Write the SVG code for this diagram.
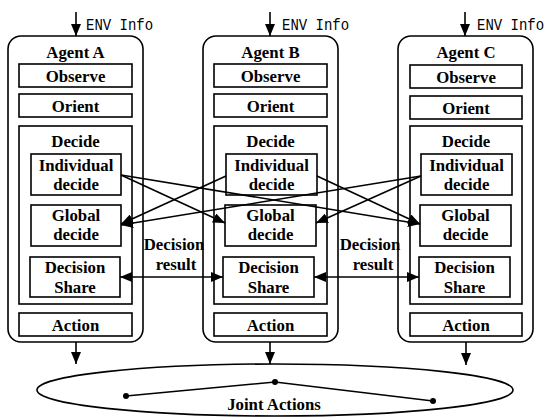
<svg xmlns="http://www.w3.org/2000/svg" width="550" height="419" viewBox="0 0 550 419">
<style>
.outer{fill:#fff;stroke:#000;stroke-width:1.6}
.box{fill:none;stroke:#000;stroke-width:1.6}
.t{font-family:"Liberation Serif","Times New Roman",serif;font-weight:bold;font-size:16.8px;text-anchor:middle;fill:#000}
.env{font-family:"Liberation Mono","Courier New",monospace;font-size:14px;fill:#000}
.ln{stroke:#000;stroke-width:1.6;fill:none}
</style>
<defs>
<marker id="ah" markerUnits="userSpaceOnUse" markerWidth="12" markerHeight="10" refX="12" refY="5" orient="auto-start-reverse">
<path d="M0,0 L12,5 L0,10 z" fill="#000"/>
</marker>
</defs>
<rect width="550" height="419" fill="#fff"/>

<g id="agentA">
<rect class="outer" x="8" y="36" width="135" height="306" rx="13"/>
<text class="t" x="75.5" y="58">Agent A</text>
<rect class="box" x="19" y="64" width="113" height="23"/>
<text class="t" x="75.5" y="82">Observe</text>
<rect class="box" x="19" y="94" width="113" height="23"/>
<text class="t" x="75.5" y="112">Orient</text>
<rect class="box" x="19" y="126" width="113" height="178"/>
<text class="t" x="75.5" y="147">Decide</text>
<rect class="box" x="31" y="154" width="90" height="41"/>
<text class="t" x="76" y="171">Individual</text>
<text class="t" x="76" y="190">decide</text>
<rect class="box" x="31" y="205" width="90" height="41"/>
<text class="t" x="76" y="221">Global</text>
<text class="t" x="76" y="240">decide</text>
<rect class="box" x="30" y="257" width="90" height="40"/>
<text class="t" x="75" y="273">Decision</text>
<text class="t" x="75" y="293">Share</text>
<rect class="box" x="19" y="313" width="113" height="23"/>
<text class="t" x="75.5" y="331">Action</text>
</g>

<g id="agentB">
<rect class="outer" x="203" y="36" width="135" height="306" rx="13"/>
<text class="t" x="270.5" y="58">Agent B</text>
<rect class="box" x="214" y="64" width="113" height="23"/>
<text class="t" x="270.5" y="82">Observe</text>
<rect class="box" x="214" y="94" width="113" height="23"/>
<text class="t" x="270.5" y="112">Orient</text>
<rect class="box" x="214" y="126" width="113" height="178"/>
<text class="t" x="270.5" y="147">Decide</text>
<rect class="box" x="226" y="154" width="91" height="41"/>
<text class="t" x="271.5" y="171">Individual</text>
<text class="t" x="271.5" y="190">decide</text>
<rect class="box" x="225" y="205" width="91" height="41"/>
<text class="t" x="270.5" y="221">Global</text>
<text class="t" x="270.5" y="240">decide</text>
<rect class="box" x="223" y="257" width="91" height="40"/>
<text class="t" x="268.5" y="273">Decision</text>
<text class="t" x="268.5" y="293">Share</text>
<rect class="box" x="214" y="313" width="113" height="23"/>
<text class="t" x="270.5" y="331">Action</text>
</g>

<g id="agentC">
<rect class="outer" x="398" y="36" width="135" height="306" rx="13"/>
<text class="t" x="466" y="58">Agent C</text>
<rect class="box" x="410" y="65" width="112" height="23"/>
<text class="t" x="466" y="83">Observe</text>
<rect class="box" x="410" y="96" width="112" height="23"/>
<text class="t" x="466" y="114">Orient</text>
<rect class="box" x="410" y="126" width="112" height="178"/>
<text class="t" x="466" y="147">Decide</text>
<rect class="box" x="421" y="154" width="91" height="41"/>
<text class="t" x="466.5" y="171">Individual</text>
<text class="t" x="466.5" y="190">decide</text>
<rect class="box" x="420" y="205" width="91" height="41"/>
<text class="t" x="465.5" y="221">Global</text>
<text class="t" x="465.5" y="240">decide</text>
<rect class="box" x="419" y="257" width="91" height="40"/>
<text class="t" x="464.5" y="273">Decision</text>
<text class="t" x="464.5" y="293">Share</text>
<rect class="box" x="410" y="313" width="112" height="23"/>
<text class="t" x="466" y="331">Action</text>
</g>

<g id="joint">
<ellipse class="ln" cx="275" cy="390" rx="238" ry="26"/>
<polyline class="ln" points="126,396 275,382 433,401"/>
<circle cx="126" cy="396" r="3" fill="#000"/>
<circle cx="275" cy="382" r="3" fill="#000"/>
<circle cx="433" cy="401" r="3" fill="#000"/>
<text class="t" x="274" y="410">Joint Actions</text>
</g>

<g id="labels">
<text class="env" transform="translate(86,30) scale(1,1.2)">ENV Info</text>
<text class="env" transform="translate(282,30) scale(1,1.2)">ENV Info</text>
<text class="env" transform="translate(477,30) scale(1,1.2)">ENV Info</text>
<text class="t" x="174" y="250">Decision</text>
<text class="t" x="176" y="270">result</text>
<text class="t" x="370" y="250">Decision</text>
<text class="t" x="373" y="270">result</text>
</g>

<g id="connectors">
<line class="ln" x1="76" y1="12" x2="76" y2="36" marker-end="url(#ah)"/>
<line class="ln" x1="270" y1="12" x2="270" y2="36" marker-end="url(#ah)"/>
<line class="ln" x1="465" y1="12" x2="465" y2="36" marker-end="url(#ah)"/>
<line class="ln" x1="76" y1="342" x2="76" y2="364" marker-end="url(#ah)"/>
<line class="ln" x1="270" y1="342" x2="270" y2="364" marker-end="url(#ah)"/>
<line class="ln" x1="466" y1="342" x2="466" y2="365" marker-end="url(#ah)"/>
<line class="ln" x1="121" y1="175" x2="225" y2="223" marker-end="url(#ah)"/>
<line class="ln" x1="121" y1="175" x2="420" y2="224" marker-end="url(#ah)"/>
<line class="ln" x1="226" y1="176" x2="121" y2="224" marker-end="url(#ah)"/>
<line class="ln" x1="317" y1="176" x2="420" y2="224" marker-end="url(#ah)"/>
<line class="ln" x1="421" y1="176" x2="316" y2="223" marker-end="url(#ah)"/>
<line class="ln" x1="421" y1="176" x2="121" y2="225" marker-end="url(#ah)"/>
<line class="ln" x1="120" y1="277" x2="223" y2="277" marker-start="url(#ah)" marker-end="url(#ah)"/>
<line class="ln" x1="314" y1="277" x2="419" y2="277" marker-start="url(#ah)" marker-end="url(#ah)"/>
</g>
</svg>
